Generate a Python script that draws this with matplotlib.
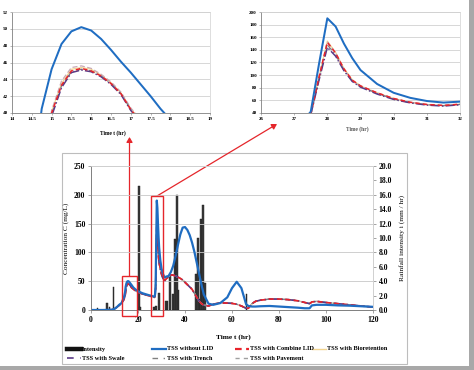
import matplotlib

matplotlib.use("Agg")
import matplotlib.pyplot as plt
from matplotlib.lines import Line2D
from matplotlib.patches import Rectangle, FancyArrowPatch

plt.rcParams["font.family"] = ["Liberation Serif", "DejaVu Serif"]
plt.rcParams["font.weight"] = "bold"

W, H = 474, 370

# time grid (hr)
t_hr = (
    [0, 5, 9, 10, 11, 12, 13, 14]
    + [14.5, 14.75, 15, 15.25, 15.5, 15.75, 16, 16.25, 16.5, 16.75, 17, 17.25, 17.5, 17.75, 18]
    + [18.5, 19, 20, 22, 24, 26, 27]
    + [27.25, 27.5, 27.75, 28, 28.25, 28.5, 28.75, 29, 29.5, 30, 30.5, 31, 31.5, 32]
    + [33, 34, 35, 36, 37, 38, 39, 40, 41, 42, 43, 44, 45, 46, 47, 48]
    + [50, 52, 55, 58, 60, 62, 64, 66, 67, 68.5, 70, 72, 76, 80, 84, 88, 91, 93, 94, 96,
       100, 105, 110, 115, 120]
)

tss_no_lid = (
    [0, 0, 0.5, 2, 5, 9, 12, 22]
    + [31, 40.5, 45.2, 48.2, 49.7, 50.2, 49.8, 48.8, 47.5, 46.1, 44.8, 43.4, 42.0, 40.5, 39.2]
    + [37.2, 35.5, 32.5, 29, 26.5, 24.2, 23]
    + [27, 42, 118, 190, 177, 150, 127, 108, 86, 72, 64, 59, 56.5, 58]
    + [59, 66, 77, 94, 113, 131, 143, 144, 139, 130, 117, 101, 82, 63, 44, 27]
    + [11, 9, 12, 22, 38, 49, 38, 10, 7, 6, 6, 6.5, 7, 6, 5, 4, 3, 3, 8, 9,
       9, 8, 7.5, 6.5, 5.5]
)

# LID scenarios share the rise, recession and tail; they differ at the two peaks
lid_rise = [0, 0, 0.5, 2, 5, 8, 12, 18]
lid_recess = [34.6, 33.2, 31, 27.8, 25.4, 23, 22]
lid_tail = [58, 61, 60.5, 59, 57, 55, 52, 48, 44, 40, 36, 29, 22, 15.5, 11, 8.5,
            7, 10, 12.5, 12, 11.5, 10, 7, 3, 3, 11, 15, 17, 19, 19, 18, 16, 13, 11, 14, 15,
            13, 11, 9, 7, 5]

combine_p1 = [25, 31, 40, 43.3, 45.0, 45.3, 45.0, 44.4, 43.5, 42.3, 40.4, 39.0, 38.0, 37.0, 36.2]
bio_p1 = [25, 31, 40.2, 43.5, 45.2, 45.4, 45.2, 44.5, 43.6, 42.4, 40.5, 39.1, 38.0, 37.0, 36.2]
swale_p1 = [25, 31, 39.6, 43.0, 44.8, 45.1, 44.9, 44.3, 43.4, 42.2, 40.3, 38.9, 37.9, 36.9, 36.1]
trench_p1 = [25, 31, 39.8, 43.2, 44.9, 45.2, 45.0, 44.4, 43.5, 42.3, 40.4, 39.0, 38.0, 37.0, 36.2]
pave_p1 = [25, 31, 40.3, 43.8, 45.4, 45.6, 45.3, 44.6, 43.7, 42.5, 40.6, 39.2, 38.1, 37.1, 36.3]

combine_p2 = [25, 38, 97, 152, 135, 110, 92, 83, 72, 63, 57, 53.5, 52, 54]
bio_p2 = [25, 38, 98, 154, 136, 111, 93, 83, 72, 63, 57, 53.5, 52, 54]
swale_p2 = [25, 37, 92, 144, 130, 107, 90, 81, 70, 61.5, 56, 52.5, 51, 53]
trench_p2 = [25, 37, 94, 148, 132, 108, 91, 82, 71, 62, 56.5, 53, 51.5, 53.5]
pave_p2 = [25, 38, 98, 153, 135, 110, 92, 83, 72, 63, 57, 53.5, 52, 54]

# rainfall hyetograph
rain_t = [2.8, 6.7, 7.8, 9.6, 20.3, 20.8, 26.8, 27.7, 28.9, 31.9, 32.6, 33.6, 35.0, 35.7,
          36.5, 37.2, 44.7, 45.4, 46.1, 46.9, 47.7, 48.4, 66.2]
rain_i = [0.3, 1.0, 0.4, 3.2, 17.2, 0.4, 0.4, 0.6, 2.3, 1.3, 1.2, 4.9, 2.2, 9.9,
          16.0, 2.8, 5.0, 10.0, 1.5, 12.6, 14.6, 3.8, 2.2]

series = [
    ("TSS with Bioretention", lid_rise + bio_p1 + lid_recess + bio_p2 + lid_tail,
     dict(color="#F2D48F", lw=0.9, ls="-")),
    ("TSS with Pavement", lid_rise + pave_p1 + lid_recess + pave_p2 + lid_tail,
     dict(color="#C9A9B4", lw=1.0, ls=(0, (4, 2)))),
    ("TSS with Trench", lid_rise + trench_p1 + lid_recess + trench_p2 + lid_tail,
     dict(color="#808080", lw=1.0, ls=(0, (5, 2, 1, 2)))),
    ("TSS with Swale", lid_rise + swale_p1 + lid_recess + swale_p2 + lid_tail,
     dict(color="#5A3A86", lw=1.2, ls=(0, (6, 1.5, 1, 1.5)))),
    ("TSS with Combine LID", lid_rise + combine_p1 + lid_recess + combine_p2 + lid_tail,
     dict(color="#E8232B", lw=1.2, ls=(0, (3, 2)))),
    ("TSS without LID", tss_no_lid, dict(color="#1F6DC2", lw=1.6, ls="-")),
]


def fig_rect(x0, y0, x1, y1):
    return [x0 / W, 1 - y1 / H, (x1 - x0) / W, (y1 - y0) / H]


def fig_pt(x, y):
    return x / W, 1 - y / H


def style_inset(ax, xlim, ylim, xticks, yticks, lw_scale):
    for _, y, st in series:
        kw = dict(st)
        kw["lw"] = kw["lw"] * lw_scale
        ax.plot(t_hr, y, **kw)
    ax.set_xlim(*xlim)
    ax.set_ylim(*ylim)
    ax.set_xticks(xticks)
    ax.set_yticks(yticks)
    ax.tick_params(labelsize=3.6, length=1.5, width=0.4, pad=1.5, color="#808080")
    ax.grid(axis="y", color="#C8C8C8", lw=0.5)
    ax.set_axisbelow(True)
    for side in ["top", "right"]:
        ax.spines[side].set_color("#D0D0D0")
        ax.spines[side].set_linewidth(0.5)
    for side in ["left", "bottom"]:
        ax.spines[side].set_color("#808080")
        ax.spines[side].set_linewidth(0.6)


fig = plt.figure(figsize=(W / 100, H / 100), dpi=100)

# outer panel decorations
fig.add_artist(Rectangle(fig_pt(62, 364), (407 - 62) / W, (364 - 153) / H,
                         transform=fig.transFigure, fill=False, ec="#BDBDBD", lw=0.8))
fig.add_artist(Rectangle((469 / W, 0), 5 / W, 1, transform=fig.transFigure,
                         fc="#A8A8A8", ec="none"))
fig.add_artist(Rectangle((0, 0), 1, 4 / H, transform=fig.transFigure,
                         fc="#A8A8A8", ec="none"))

# zoomed insets
ax1 = fig.add_axes(fig_rect(12, 12, 210, 113))
style_inset(ax1, (14, 19), (40, 52), [14, 14.5, 15, 15.5, 16, 16.5, 17, 17.5, 18, 18.5, 19],
            range(40, 53, 2), 0.9)
ax1.set_xticklabels(["14", "14.5", "15", "15.5", "16", "16.5", "17", "17.5", "18", "18.5", "19"])
fig.text(*fig_pt(113, 133), "Time t (hr)", fontsize=4, ha="center", va="center")

ax2 = fig.add_axes(fig_rect(261, 12, 460, 113))
style_inset(ax2, (26, 32), (40, 200), range(26, 33), range(40, 201, 20), 0.9)
fig.text(*fig_pt(357, 129), "Time (hr)", fontsize=4, ha="center", va="center", color="#555555")

# main chart
ax = fig.add_axes(fig_rect(91, 166, 373, 310))
axr = ax.twinx()
axr.bar(rain_t, rain_i, width=0.7, color="#3A3A3A", ec="#1A1A1A", lw=0.3)
axr.set_ylim(0, 20)
axr.set_yticks([i * 2 for i in range(11)])
axr.set_yticklabels([f"{i * 2:.1f}" for i in range(11)])
axr.tick_params(labelsize=5.5, length=2, width=0.5, pad=2, color="#808080")
axr.set_ylabel("Rainfall intensity i (mm / hr)", fontsize=5.3, labelpad=5)

ax.set_zorder(axr.get_zorder() + 1)
ax.patch.set_visible(False)
for _, y, st in series:
    ax.plot(t_hr, y, **st)
ax.set_xlim(0, 120)
ax.set_ylim(0, 250)
ax.set_xticks(range(0, 121, 20))
ax.set_yticks(range(0, 251, 50))
ax.tick_params(labelsize=5.5, length=2, width=0.5, pad=2, color="#808080")
ax.set_ylabel("Concentration C (mg/L)", fontsize=5.3, labelpad=4)
ax.grid(axis="y", color="#C8C8C8", lw=0.6)
axr.grid(False)
for a in (ax, axr):
    for side in ["top", "right"]:
        a.spines[side].set_color("#D0D0D0")
        a.spines[side].set_linewidth(0.6)
    for side in ["left", "bottom"]:
        a.spines[side].set_color("#7F7F7F")
        a.spines[side].set_linewidth(0.6)
fig.text(*fig_pt(233, 337), "Time t (hr)", fontsize=5.3, ha="center", va="center")

# highlight boxes for the zoomed windows
for x0, x1, y0, y1 in [(13.2, 19.6, -10, 59), (25.6, 30.6, -10, 198)]:
    ax.add_patch(Rectangle((x0, y0), x1 - x0, y1 - y0, fill=False, ec="#E5262B",
                           lw=1.0, clip_on=False, zorder=10))

for start, end in [((129.5, 276), (129.5, 137)), ((157, 196), (277, 124))]:
    fig.add_artist(FancyArrowPatch(fig_pt(*start), fig_pt(*end), transform=fig.transFigure,
                                   arrowstyle="-|>,head_length=3,head_width=1.8",
                                   color="#E5262B", lw=0.9, shrinkA=0, shrinkB=0))

# legend drawn below the axes
legend_items = [
    ("Intensity", dict(color="#111111", lw=3.2, ls="-"), 67, 349),
    ("TSS without LID", dict(color="#1F6DC2", lw=1.6, ls="-"), 152, 349),
    ("TSS with Combine LID", dict(color="#E8232B", lw=1.6, ls=(0, (3, 2))), 235, 349),
    ("TSS with Bioretention", dict(color="#F2D48F", lw=1.0, ls="-"), 312, 349),
    ("TSS with Swale", dict(color="#5A3A86", lw=1.2, ls=(0, (4, 4, 1, 4))), 67, 358),
    ("TSS with Trench", dict(color="#808080", lw=1.0, ls=(0, (4, 4, 1, 4))), 152, 358),
    ("TSS with Pavement", dict(color="#A0A0A0", lw=1.0, ls=(0, (3, 3))), 235, 358),
]
for label, st, x, y in legend_items:
    xa, ya = fig_pt(x, y)
    xb, _ = fig_pt(x + 14, y)
    fig.add_artist(Line2D([xa, xb], [ya, ya], transform=fig.transFigure, **st))
    fig.text(xb + 1 / W, ya, label, fontsize=4.6, ha="left", va="center")

fig.savefig("out.png", dpi=100)
